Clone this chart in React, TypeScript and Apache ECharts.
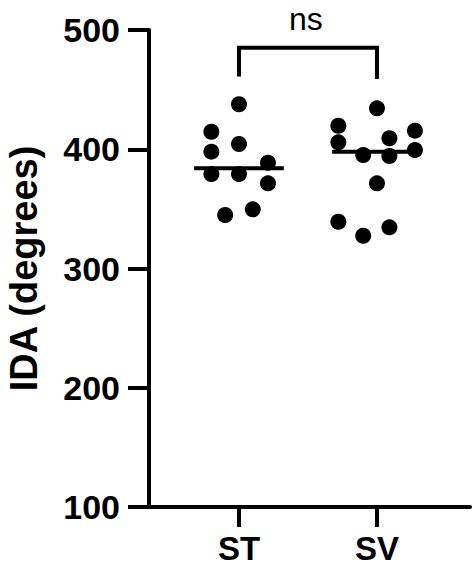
import React, { useEffect, useRef } from "react";
import * as echarts from "echarts";

const categories = ["ST", "SV"];
const yTicks = [100, 200, 300, 400, 500];

// ST group values (degrees) and horizontal jitter (in category units)
const stValues = [437.7, 414.7, 404.4, 398.0, 388.7, 379.2, 379.2, 371.4, 344.9, 349.6];
const stJitter = [0, -0.2, 0, -0.2, 0.21, -0.2, 0, 0.21, -0.1, 0.1];

// SV group values (degrees) and horizontal jitter
const svValues = [434.3, 419.7, 405.8, 415.6, 409.2, 399.4, 395.2, 394.3, 371.4, 339.2, 327.5, 334.5];
const svJitter = [0, -0.28, -0.28, 0.275, 0.09, 0.275, -0.1, 0.09, 0, -0.28, -0.1, 0.09];

// Median lines
const medians = [384, 398];
const medianHalfWidth = 0.325;

// Significance bracket
const bracketX = [1, 1, 2, 2];
const bracketY = [461, 485.2, 485.2, 459];
const sigLabel = "ns";

const FONT = "'Liberation Sans', Arial, Helvetica, sans-serif";

export default function App() {
  const ref = useRef<HTMLDivElement>(null);

  useEffect(() => {
    document.body.style.margin = "0";
    const chart = echarts.init(ref.current as HTMLDivElement, null, { renderer: "svg" });

    const black = "#000";
    const groups = [
      { x: 1, values: stValues, jitter: stJitter },
      { x: 2, values: svValues, jitter: svJitter },
    ];

    const series: any[] = [];
    groups.forEach((g, gi) => {
      series.push({
        type: "scatter",
        name: categories[gi],
        data: g.values.map((v, i) => [g.x + g.jitter[i], v]),
        symbol: "circle",
        symbolSize: 16,
        itemStyle: { color: black, opacity: 1 },
        z: 2,
      });
      series.push({
        type: "line",
        data: [
          [g.x - medianHalfWidth, medians[gi]],
          [g.x + medianHalfWidth, medians[gi]],
        ],
        symbol: "none",
        lineStyle: { color: black, width: 4, cap: "butt", opacity: 1 },
        z: 3,
      });
    });

    series.push({
      type: "line",
      data: bracketX.map((x, i) => [x, bracketY[i]]),
      symbol: "none",
      lineStyle: { color: black, width: 4, cap: "butt", join: "miter", opacity: 1 },
      z: 3,
    });

    series.push({
      type: "scatter",
      data: [[(bracketX[0] + bracketX[3]) / 2 - 0.015, bracketY[1]]],
      symbolSize: 0,
      itemStyle: { color: black, opacity: 1 },
      label: {
        show: true,
        position: "top",
        distance: 13,
        formatter: sigLabel,
        fontSize: 32,
        fontFamily: FONT,
        color: black,
        opacity: 1,
      },
      clip: false,
      z: 4,
    });

    chart.setOption({
      animation: false,
      textStyle: { fontFamily: FONT },
      grid: { left: 149, right: 4, top: 30, bottom: 62, containLabel: false, outerBoundsMode: "none" },
      xAxis: {
        type: "value",
        min: 0.348,
        max: 2.674,
        axisLine: { show: true, onZero: false, lineStyle: { color: black, width: 4 } },
        axisTick: { show: true, customValues: [1, 2], length: 20, lineStyle: { color: black, width: 4 } },
        axisLabel: {
          customValues: [1, 2],
          formatter: (v: number) => categories[Math.round(v) - 1] ?? "",
          margin: 25,
          fontSize: 33,
          fontWeight: "bold",
          fontFamily: FONT,
          color: black,
        },
        splitLine: { show: false },
      },
      yAxis: {
        type: "value",
        min: yTicks[0],
        max: yTicks[yTicks.length - 1],
        interval: 100,
        name: "IDA (degrees)",
        nameLocation: "middle",
        nameGap: 106,
        nameTextStyle: { fontSize: 38, fontWeight: "bold", fontFamily: FONT, color: black },
        axisLine: { show: true, onZero: false, lineStyle: { color: black, width: 4 } },
        axisTick: { show: true, length: 21, lineStyle: { color: black, width: 4 } },
        axisLabel: {
          margin: 29,
          fontSize: 34,
          fontWeight: "bold",
          fontFamily: FONT,
          color: black,
        },
        splitLine: { show: false },
      },
      series,
    });

    return () => chart.dispose();
  }, []);

  return <div ref={ref} style={{ width: 474, height: 569 }} />;
}
